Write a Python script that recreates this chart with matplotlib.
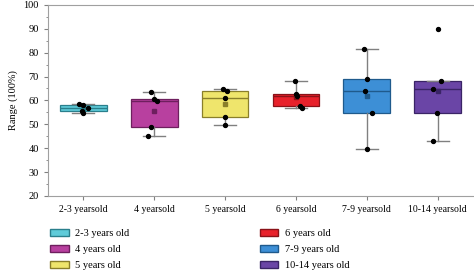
import matplotlib
matplotlib.use("Agg")
import matplotlib.pyplot as plt
import numpy as np
from matplotlib.patches import Patch

categories = ["2-3 yearsold", "4 yearsold", "5 yearsold", "6 yearsold", "7-9 yearsold", "10-14 yearsold"]
legend_labels = ["2-3 years old", "4 years old", "5 years old", "6 years old", "7-9 years old", "10-14 years old"]
vals_2_3 = [58.3, 58.0, 56.7, 55.6, 54.8]
vals_4 = [63.4, 60.7, 59.7, 49.0, 45.1]
vals_5 = [64.8, 63.8, 60.8, 52.9, 49.8]
vals_6 = [68.0, 62.8, 61.8, 57.7, 56.8]
vals_7_9 = [81.7, 68.8, 63.9, 54.8, 39.7]
vals_10_14 = [89.8, 68.0, 64.9, 54.8, 42.8]
data = [vals_2_3, vals_4, vals_5, vals_6, vals_7_9, vals_10_14]
jitter = [[-0.06, 0.0, 0.07, -0.02, 0.0], [-0.05, 0.0, 0.04, -0.05, -0.09],
          [-0.03, 0.03, 0.0, 0.0, 0.0], [-0.01, 0.0, 0.01, 0.06, 0.09],
          [-0.04, 0.0, -0.03, 0.08, 0.0], [0.0, 0.05, -0.06, -0.01, -0.07]]

face = ["#5fcbd9", "#b8409f", "#efe56c", "#e8212b", "#3d8fd6", "#6a45a6"]
edge = ["#2a7f8c", "#6e1f5e", "#8a7f2a", "#8a1218", "#1f5a8c", "#3a2466"]

plt.rcParams['font.family'] = ['Liberation Serif', 'DejaVu Serif']
fig = plt.figure(figsize=(4.74, 2.71), dpi=100)
ax = fig.add_axes([0.101, 0.277, 0.897, 0.705])

pos = np.arange(len(categories))
bp = ax.boxplot(data, positions=pos, widths=0.66, patch_artist=True, showfliers=False,
                showmeans=True, capwidths=0.31,
                whiskerprops=dict(color="#808080", lw=1.0),
                capprops=dict(color="#808080", lw=1.0),
                medianprops=dict(lw=1.0))
for i, b in enumerate(bp['boxes']):
    b.set_facecolor(face[i]); b.set_edgecolor(edge[i]); b.set_linewidth(0.9)
    bp['medians'][i].set_color(edge[i])
    m = bp['means'][i]
    m.set_marker('s'); m.set_markersize(2.2); m.set_markerfacecolor(edge[i]); m.set_markeredgecolor(edge[i])

for i, vals in enumerate(data):
    ax.scatter(pos[i] + np.array(jitter[i]), vals, s=8, color='black', zorder=5)

ax.set_xlim(-0.5, 5.5)
ax.set_ylim(20, 100)
ax.set_yticks(range(20, 101, 10))
ax.set_yticks(range(25, 100, 10), minor=True)
ax.set_xticks(pos)
ax.set_xticklabels(categories, fontsize=7)
ax.tick_params(axis='y', labelsize=7.5, length=3, color='#808080')
ax.tick_params(axis='y', which='minor', length=1.5, color='#808080')
ax.tick_params(axis='x', length=3, color='#808080')
ax.set_ylabel("Range (100%)", fontsize=7.5)
for s in ['left', 'bottom', 'top']:
    ax.spines[s].set_color('#a0a0a0')
ax.spines['right'].set_visible(False)

handles = [Patch(facecolor=face[i], edgecolor=edge[i], label=legend_labels[i]) for i in range(6)]
fig.legend(handles=handles, loc='upper left', bbox_to_anchor=(0.097, 0.172), ncol=2,
           frameon=False, fontsize=7.5, handlelength=1.8, handleheight=0.7,
           columnspacing=12.5, labelspacing=0.65, borderaxespad=0, handletextpad=0.6)

fig.savefig("out.png", dpi=100)
